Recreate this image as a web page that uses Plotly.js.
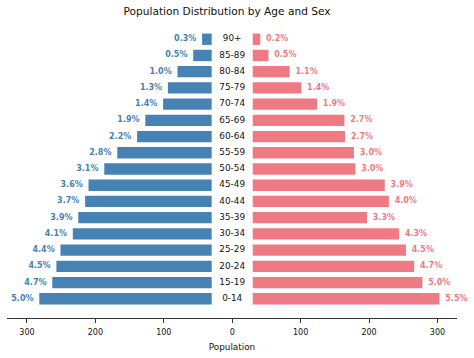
<!DOCTYPE html>
<html>
<head>
<meta charset="utf-8">
<script src="https://cdn.plot.ly/plotly-3.0.1.min.js"></script>
<style>
  html, body { margin: 0; padding: 0; background: #ffffff; }
  #chart { width: 474px; height: 358px; }
</style>
</head>
<body>
<div id="chart"></div>
<script>
// Age groups, youngest at the bottom of the pyramid
const ages = ['0-14', '15-19', '20-24', '25-29', '30-34', '35-39', '40-44', '45-49',
              '50-54', '55-59', '60-64', '65-69', '70-74', '75-79', '80-84', '85-89', '90+'];

// Population counts per age group
const male   = [252, 233, 227, 221, 203, 195, 185, 180, 157, 138, 109, 97, 71, 64, 50, 27, 14];
const female = [273, 248, 236, 224, 214, 167, 199, 193, 150, 148, 135, 134, 94, 71, 54, 23, 11];

// Axis tick positions and their (absolute) labels
const tickValues = [-300, -200, -100, 0, 100, 200, 300];
const tickLabels = ['300', '200', '100', '0', '100', '200', '300'];

// Space kept free in the middle for the age labels, and label padding (data units)
const GAP = 30;
const PAD = 8.5;

const MALE_COLOR = '#4682B4';
const FEMALE_COLOR = '#F07A84';
const FONT = 'DejaVu Sans, sans-serif';

const total = male.reduce((a, b) => a + b, 0) + female.reduce((a, b) => a + b, 0);
const pct = v => (v / total * 100).toFixed(1) + '%';

const traces = [
  {
    type: 'bar', orientation: 'h', name: 'Male',
    y: ages, x: male.map(v => -v), base: -GAP,
    width: 0.7, marker: { color: MALE_COLOR, line: { width: 0 } },
    hoverinfo: 'skip'
  },
  {
    type: 'bar', orientation: 'h', name: 'Female',
    y: ages, x: female, base: GAP,
    width: 0.7, marker: { color: FEMALE_COLOR, line: { width: 0 } },
    hoverinfo: 'skip'
  },
  {
    // share labels for the male side
    type: 'scatter', mode: 'text', y: ages,
    x: male.map(v => -(GAP + v + PAD)),
    text: male.map(pct), textposition: 'middle left',
    textfont: { family: FONT, size: 8, color: MALE_COLOR, weight: 'bold' },
    hoverinfo: 'skip', cliponaxis: false
  },
  {
    // share labels for the female side
    type: 'scatter', mode: 'text', y: ages,
    x: female.map(v => GAP + v + PAD),
    text: female.map(pct), textposition: 'middle right',
    textfont: { family: FONT, size: 8, color: FEMALE_COLOR, weight: 'bold' },
    hoverinfo: 'skip', cliponaxis: false
  },
  {
    // age group names in the centre gap
    type: 'scatter', mode: 'text', y: ages,
    x: ages.map(() => 0),
    text: ages, textposition: 'middle center',
    textfont: { family: FONT, size: 8.85, color: '#111111' },
    hoverinfo: 'skip', cliponaxis: false
  }
];

const layout = {
  width: 474, height: 358,
  margin: { l: 6.7, r: 16.7, t: 20.3, b: 40.3, pad: 0 },
  paper_bgcolor: '#ffffff', plot_bgcolor: '#ffffff',
  showlegend: false,
  barmode: 'overlay',
  font: { family: FONT, color: '#111111' },
  title: {
    text: 'Population Distribution by Age and Sex',
    font: { family: FONT, size: 10.6, color: '#111111' },
    x: 0.489, xref: 'paper', xanchor: 'center',
    y: 1 - 11.7 / 358, yref: 'container', yanchor: 'middle'
  },
  xaxis: {
    range: [-329.2, 328.6],
    showgrid: false, zeroline: false,
    showline: true, linecolor: '#333333', linewidth: 1,
    ticks: 'outside', ticklen: 3.5, tickwidth: 1, tickcolor: '#333333',
    tickmode: 'array', tickvals: tickValues, ticktext: tickLabels,
    tickfont: { family: FONT, size: 8, color: '#111111' },
    ticklabelstandoff: 3,
    title: {
      text: 'Population',
      font: { family: FONT, size: 8.85, color: '#111111' },
      standoff: 7
    },
    fixedrange: true
  },
  yaxis: {
    type: 'category', categoryorder: 'array', categoryarray: ages,
    range: [-1.185, 17.185],
    visible: false, showgrid: false, zeroline: false,
    fixedrange: true
  }
};

Plotly.newPlot('chart', traces, layout, { displayModeBar: false, staticPlot: true });
</script>
</body>
</html>
